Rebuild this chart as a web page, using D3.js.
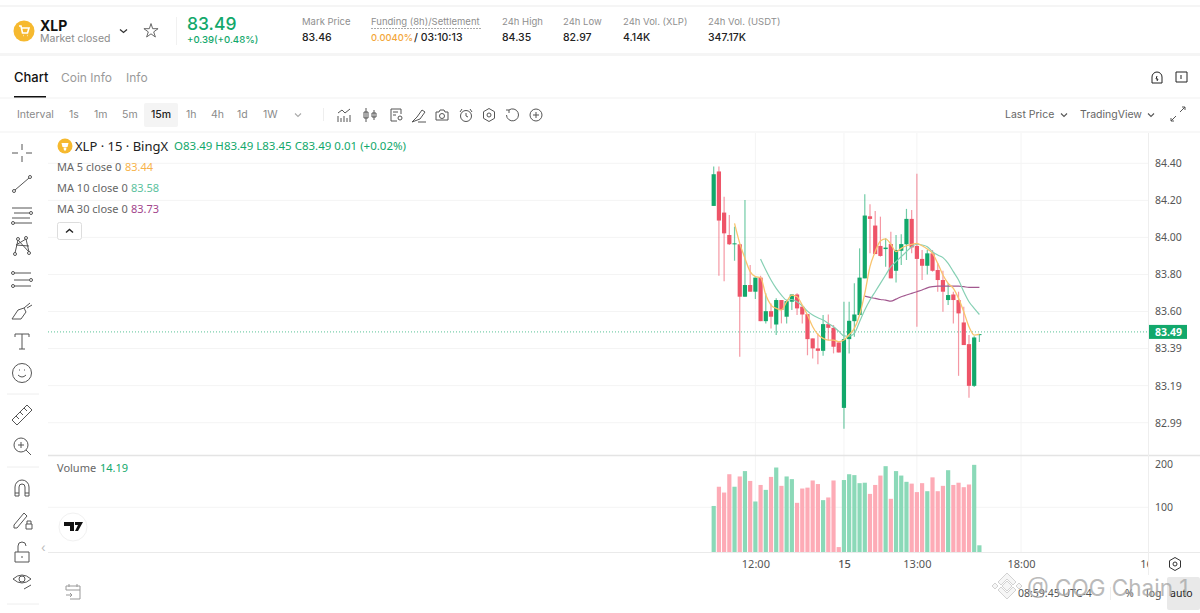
<!DOCTYPE html>
<html>
<head>
<meta charset="utf-8">
<script src="https://cdn.jsdelivr.net/npm/d3@7"></script>
<style>
  html, body { margin: 0; padding: 0; background: #fff; overflow: hidden; }
  svg { display: block; }
  text { font-family: Inter, "Noto Sans", sans-serif; }
  .tv text, text.tv { font-family: "Noto Sans", "Open Sans", sans-serif; }
</style>
</head>
<body>
<div id="chart"></div>
<script>
// values, one entry per 15m candle
const candleOpen = [84.170,84.356,84.134,84.013,83.963,83.963,83.680,83.743,83.707,83.783,83.548,83.602,83.530,83.662,83.572,83.653,83.692,83.626,83.586,83.455,83.401,83.388,83.532,83.512,83.433,83.080,83.451,83.548,83.581,83.779,84.114,84.064,83.954,83.937,83.964,83.820,83.928,83.963,84.100,83.954,83.884,83.847,83.914,83.824,83.770,83.662,83.692,83.662,83.541,83.424,83.199,83.474];
const candleHigh = [84.383,84.383,84.220,84.121,84.058,83.963,84.202,83.851,83.783,83.793,83.698,83.644,83.671,83.662,83.662,83.692,83.698,83.635,83.586,83.455,83.482,83.581,83.584,83.527,83.437,83.653,83.653,83.752,83.941,84.233,84.179,84.143,84.112,83.995,84.031,84.013,84.017,84.154,84.148,84.343,83.932,83.932,83.932,83.860,83.820,83.752,83.707,83.707,83.626,83.473,83.467,83.478];
const candleLow = [84.170,83.793,83.764,83.959,83.874,83.356,83.680,83.707,83.667,83.548,83.536,83.509,83.473,83.536,83.536,83.608,83.581,83.536,83.364,83.346,83.316,83.361,83.445,83.374,83.379,82.968,83.374,83.464,83.581,83.779,83.914,83.910,83.896,83.842,83.779,83.757,83.851,83.878,83.914,83.518,83.770,83.800,83.815,83.707,83.599,83.635,83.536,83.253,83.419,83.134,83.193,83.436];
const candleClose = [84.341,84.091,84.022,83.963,83.968,83.680,83.743,83.707,83.783,83.548,83.602,83.572,83.662,83.608,83.656,83.692,83.617,83.584,83.451,83.401,83.388,83.532,83.512,83.410,83.379,83.451,83.550,83.584,83.783,84.118,84.100,83.910,83.900,83.945,83.779,83.932,83.964,84.100,83.946,83.884,83.847,83.914,83.820,83.770,83.707,83.689,83.662,83.590,83.419,83.199,83.460,83.478];
const volumes = [103,146,133,174,146,169,181,159,113,150,139,168,189,148,169,163,110,142,144,160,152,116,122,160,11,161,174,172,154,155,130,150,171,192,119,181,171,157,153,134,154,136,167,136,148,183,150,155,145,151,195,15];

// moving averages start part way through the candles
const ma5Start = 4;
const ma5 = [84.076,83.968,83.887,83.815,83.788,83.783,83.689,83.635,83.617,83.608,83.653,83.689,83.680,83.635,83.581,83.518,83.476,83.455,83.446,83.446,83.437,83.446,83.476,83.509,83.581,83.698,83.842,83.923,83.981,83.992,83.963,83.923,83.941,83.955,83.963,83.968,83.955,83.937,83.914,83.860,83.797,83.752,83.725,83.671,83.599,83.518,83.473,83.478];
const ma10Start = 9;
const ma10 = [83.883,83.824,83.770,83.725,83.689,83.662,83.665,83.653,83.631,83.602,83.581,83.566,83.554,83.536,83.518,83.494,83.469,83.467,83.482,83.545,83.608,83.662,83.707,83.752,83.797,83.842,83.869,83.896,83.923,83.950,83.963,83.959,83.950,83.923,83.905,83.891,83.860,83.815,83.770,83.707,83.653,83.617,83.584];
const ma30Start = 29;
const ma30 = [83.683,83.676,83.671,83.665,83.662,83.656,83.667,83.680,83.689,83.698,83.707,83.716,83.728,83.734,83.737,83.737,83.737,83.737,83.737,83.734,83.730,83.730,83.730];

const lastPrice = 83.49;
const priceTicks = [84.4,84.2,84.0,83.8,83.6,83.4,83.2,83.0];
const priceTickLabels = ['84.40','84.20','84.00','83.80','83.60','83.39','83.19','82.99'];
const volumeTicks = [200,100];
const timeTickIndex = [8,25,39,59,83];
const timeTickLabels = ['12:00','15','13:00','18:00','16'];

const headerStats = [
    ['Mark Price', '83.46', 302],
    ['24h High', '84.35', 502],
    ['24h Low', '82.97', 563],
    ['24h Vol. (XLP)', '4.14K', 623],
    ['24h Vol. (USDT)', '347.17K', 708]
];
const intervals = [['Interval',17],['1s',69],['1m',94],['5m',122],['15m',151],['1h',186],['4h',211],['1d',237],['1W',263]];
const legendMA = [['MA 5 close 0','83.44','#f7b34c',171,125],['MA 10 close 0','83.58','#5cc29e',192,131],['MA 30 close 0','83.73','#a2458c',213,131]];

const green = '#12a86b', red = '#ee5468';
const volGreen = '#8bd9b8', volRed = '#fdabb6';
const gridColor = '#f4f4f4';
const iconColor = '#555';

const svg = d3.select('#chart').append('svg').attr('width', 1200).attr('height', 613);
svg.append('rect').attr('width', 1200).attr('height', 613).attr('fill', '#fff');

// scales
const x = d3.scaleLinear().domain([0, 51]).range([713.7, 979.4]);
const y = d3.scaleLinear().domain([83, 84.4]).range([422.7, 163.3]);
const yVol = d3.scaleLinear().domain([0, 200]).range([552, 462.6]);

function hLine(x1, x2, yy, color, w) {
    svg.append('line').attr('x1', x1).attr('x2', x2).attr('y1', yy).attr('y2', yy)
        .attr('stroke', color).attr('stroke-width', w || 1);
}
function vLine(xx, y1, y2, color, w) {
    svg.append('line').attr('x1', xx).attr('x2', xx).attr('y1', y1).attr('y2', y2)
        .attr('stroke', color).attr('stroke-width', w || 1);
}
function label(txt, xx, yy, size, color, weight, cls) {
    return svg.append('text').attr('x', xx).attr('y', yy).attr('font-size', size)
        .attr('fill', color).attr('font-weight', weight || 400).attr('class', cls || null).text(txt);
}

// page bands and separators
svg.append('rect').attr('x', 0).attr('y', 5).attr('width', 1200).attr('height', 2).attr('fill', '#f5f5f5');
svg.append('rect').attr('x', 0).attr('y', 53).attr('width', 1200).attr('height', 3).attr('fill', '#f5f5f5');
hLine(0, 1200, 98, '#f1f1f1');
hLine(0, 1200, 132, '#f1f1f1');
vLine(176.5, 17, 45, '#f1f1f1');
vLine(323.5, 108, 121, '#eee');

// header
svg.append('circle').attr('cx', 24).attr('cy', 31).attr('r', 10.5).attr('fill', '#f6b92f');
svg.append('path').attr('d', 'M19 26h2l1.5 7h5l1.5-5h-7M23 35.5h.5M27 35.5h.5').attr('fill', 'none').attr('stroke', '#fff').attr('stroke-width', 1.6);
label('XLP', 40, 31, 14, '#111', 700);
label('Market closed', 40, 42, 10.5, '#8c8c8c');
svg.append('path').attr('d', 'M120 29.5l3.5 3 3.5-3').attr('fill', 'none').attr('stroke', '#333').attr('stroke-width', 1.3);
svg.append('path').attr('d', d3.symbol(d3.symbolStar, 62)()).attr('transform', 'translate(151,31)').attr('fill', 'none').attr('stroke', '#666');
label('83.49', 187, 30, 17.5, green, 500);
label('+0.39(+0.48%)', 187, 43, 9.6, green, 500);

headerStats.forEach(d => {
    label(d[0], d[2], 25, 9.5, '#8f8f8f');
    label(d[1], d[2], 41, 10.5, '#222', 500);
});
label('Funding (8h)/Settlement', 371, 25, 9.5, '#8f8f8f');
svg.append('line').attr('x1', 371).attr('x2', 481).attr('y1', 28.5).attr('y2', 28.5).attr('stroke', '#aaa').attr('stroke-dasharray', '2 1');
label('0.0040%', 371, 41, 9.4, '#f3a73b', 500);
label('/ 03:10:13', 414, 41, 10.5, '#222', 500);

// tabs
label('Chart', 14, 82, 13, '#111', 500);
label('Coin Info', 61, 82, 12, '#9a9a9a');
label('Info', 126, 82, 12, '#9a9a9a');
svg.append('rect').attr('x', 14).attr('y', 96).attr('width', 32).attr('height', 1.5).attr('fill', '#111');

// interval row
svg.append('rect').attr('x', 144).attr('y', 103).attr('width', 34).attr('height', 24).attr('rx', 2).attr('fill', '#f4f4f4');
intervals.forEach(d => {
    label(d[0], d[1], 118, 10.5, d[0] === '15m' ? '#222' : '#8a8a8a', d[0] === '15m' ? 500 : 400);
});
function chevron(cx, cy, color) {
    svg.append('path').attr('d', `M${cx - 3} ${cy - 1.5}l3 3 3-3`).attr('fill', 'none').attr('stroke', color).attr('stroke-width', 1.1);
}
chevron(298, 115, '#aaa');
label('Last Price', 1005, 118, 10.5, '#666');
chevron(1064, 115, '#555');
label('TradingView', 1080, 118, 10.5, '#666');
chevron(1151, 115, '#555');

// toolbar icons, each is a small path around its own centre
function icon(cx, cy, d, color) {
    svg.append('path').attr('transform', `translate(${cx},${cy})`).attr('d', d)
        .attr('fill', 'none').attr('stroke', color || iconColor).attr('stroke-width', 1);
}
const circ = (a, b, r) => `M${a - r} ${b}a${r} ${r} 0 1 0 ${2 * r} 0a${r} ${r} 0 1 0 ${-2 * r} 0`;
const topIcons = [
    [344, 'M-6 7V1M-3 7V3M0 7V1M3 7V3M6 7V0M-6-2L-2-5 1-2 6-6'],
    [370, 'M-4-7V7M-6-3h4v6h-4zM4-5V5M2-2h4v4h-4z'],
    [396, 'M5-1V-6H-5V6H1M-3-3H2M-3 0H0' + circ(4, 3, 2)],
    [419, 'M-7 7L-2 2 3-5 6-3 1 4-7 7M-1 7H7'],
    [442, 'M-6-3H-3L-2-5H2L3-3H6V5H-6Z' + circ(0, 1, 2.5)],
    [466, circ(0, 1, 5.5) + 'M0-2V1L2 2M-6-3L-4-6M6-3L4-6'],
    [489, 'M0-6.5L5.5-3.3V3.3L0 6.5-5.5 3.3V-3.3Z' + circ(0, 0, 2)],
    [512, 'M-3-5A6 6 0 1 1-5.5 0M-3-5V-2M-3-5H-6'],
    [536, circ(0, 0, 6) + 'M-3 0H3M0-3V3']
];
topIcons.forEach(d => icon(d[0], 115, d[1]));
icon(1178, 114, 'M2-2L7-7M4-7H7V-4M-2 2L-7 7M-7 4V7H-4');
icon(1157, 78, 'M-5 5V-1A5 5 0 0 1 5-1V5ZM0-2L-1 1H1L0 3', '#222');
icon(1181, 77, 'M-5-5H6V5H-5ZM0-2V2', '#222');

const sideIcons = [
    [153, 'M0-9V-3M0 3V9M-10 0H-4M4 0H10'],
    [184, 'M-7 6L7-6' + circ(-8, 7, 1.5) + circ(8, -7, 1.5)],
    [216, 'M-10-8H10M-8-3H8M-10 2H8M-8 7H10' + circ(9, -3, 1.5) + circ(-9, 7, 1.5)],
    [246, 'M-7 7L-4-6 7 6 4-7-6-1 7 0' + circ(-7, 8, 1.5) + circ(-4, -7, 1.5) + circ(7, 7, 1.5) + circ(4, -8, 1.5)],
    [279, 'M-8-6H9M-8 1H7M-8 7H9' + circ(-9, -6, 1.5) + circ(9, 1, 1.5) + circ(-9, 7, 1.5)],
    [311, 'M-10 8L-4-1 2-3 4 1-1 8ZM2-3L8-8M5-3L10-6'],
    [341, 'M-7-7H7V-4M-7-7V-4M0-7V8M-3 8H3'],
    [373, circ(0, 0, 9.5) + 'M-4 2Q0 6 4 2M-3-3h1M2-3h1'],
    [415, 'M-10 5L5-10 10-5-5 10ZM-6 1L-3 4M-2-3L1 0M2-7L5-4'],
    [446, circ(-1, -1, 7) + 'M4 4L9 9M-4-1H2M-1-4V2'],
    [488, 'M-7 8V-1A7 7 0 0 1 7-1V8H3V-1A3 3 0 0 0-3-1V8ZM-7 5H-3M3 5H7'],
    [520, 'M-8 5L2-7 5-4-5 8-8 8ZM4 4H10V9H4ZM5 4V1H9V4'],
    [552, 'M-7 0H7V10H-7ZM-4 0V-6A4 4 0 0 1 4-6M0 4V6'],
    [581, 'M-9-2Q0-10 9-2Q0 6-9-2' + circ(0, -2, 3) + 'M2 8L9 4']
];
sideIcons.forEach(d => icon(22, d[0], d[1]));
hLine(7, 39, 394, '#eee');
hLine(7, 39, 467, '#eee');
hLine(7, 39, 604, '#eee');
label('‹', 41, 552, 12, '#bbb');
icon(73, 592, 'M-7-2H7V7H-3M-7-2V-6H7V-2M-4-8V-5M4-8V-5M-7 3H-1M-3 1L-1 3-3 5', '#999');

// grid
const gridG = svg.append('g');
gridG.selectAll('line.h').data(priceTicks).join('line').attr('class', 'h')
    .attr('x1', 48).attr('x2', 1148).attr('y1', d => y(d)).attr('y2', d => y(d))
    .attr('stroke', gridColor);
gridG.selectAll('line.hv').data(volumeTicks.slice(1)).join('line').attr('class', 'hv')
    .attr('x1', 48).attr('x2', 1148).attr('y1', d => yVol(d)).attr('y2', d => yVol(d))
    .attr('stroke', gridColor);
gridG.selectAll('line.v').data(timeTickIndex.slice(0, 4)).join('line').attr('class', 'v')
    .attr('x1', d => x(d)).attr('x2', d => x(d)).attr('y1', 133).attr('y2', 552)
    .attr('stroke', gridColor);

// pane borders
hLine(48, 1200, 455.5, '#e4e4e4', 1.5);
hLine(48, 1200, 552.5, '#eaeaea');

// volume bars
svg.append('g').selectAll('rect').data(volumes).join('rect')
    .attr('x', (d, i) => x(i) - 2.1)
    .attr('width', 4.2)
    .attr('y', d => yVol(d))
    .attr('height', d => yVol(0) - yVol(d))
    .attr('fill', (d, i) => candleClose[i] >= candleOpen[i] ? volGreen : volRed);

// last price dotted line
svg.append('line').attr('x1', 48).attr('x2', 1148).attr('y1', y(lastPrice)).attr('y2', y(lastPrice))
    .attr('stroke', green).attr('stroke-opacity', 0.7).attr('stroke-dasharray', '1 2');

// candles
const candles = svg.append('g').selectAll('g').data(candleOpen).join('g');
candles.append('line')
    .attr('x1', (d, i) => x(i)).attr('x2', (d, i) => x(i))
    .attr('y1', (d, i) => y(candleHigh[i])).attr('y2', (d, i) => y(candleLow[i]))
    .attr('stroke', (d, i) => candleClose[i] >= candleOpen[i] ? green : red)
    .attr('stroke-opacity', 0.6)
    .attr('stroke-width', 1.2);
candles.append('rect')
    .attr('x', (d, i) => x(i) - 2.1).attr('width', 4.2)
    .attr('y', (d, i) => y(Math.max(candleOpen[i], candleClose[i])))
    .attr('height', (d, i) => Math.max(1, Math.abs(y(candleOpen[i]) - y(candleClose[i]))))
    .attr('fill', (d, i) => candleClose[i] >= candleOpen[i] ? green : red);

// moving averages
function maLine(values, start, color, w) {
    const line = d3.line().x((d, i) => x(i + start)).y(d => y(d)).curve(d3.curveMonotoneX);
    svg.append('path').attr('d', line(values)).attr('fill', 'none')
        .attr('stroke', color).attr('stroke-width', w);
}
maLine(ma30, ma30Start, '#a2588f', 1.2);
maLine(ma10, ma10Start, '#86d0b4', 1.2);
maLine(ma5, ma5Start, '#f9c46e', 1.3);

// price axis
const priceAxis = d3.axisRight(y).tickValues(priceTicks).tickSize(0).tickPadding(6)
    .tickFormat((d, i) => priceTickLabels[i]);
const priceG = svg.append('g').attr('class', 'tv').attr('transform', 'translate(1149,0)').call(priceAxis);
priceG.select('.domain').remove();
priceG.selectAll('text').attr('font-size', 10.5).attr('fill', '#555');

const volAxis = d3.axisRight(yVol).tickValues(volumeTicks).tickSize(0).tickPadding(6).tickFormat(d3.format('d'));
const volG = svg.append('g').attr('class', 'tv').attr('transform', 'translate(1149,0)').call(volAxis);
volG.select('.domain').remove();
volG.selectAll('text').attr('font-size', 10.5).attr('fill', '#555')
    .attr('dy', d => d === 200 ? '0.45em' : '0.32em');

svg.append('rect').attr('x', 1149).attr('y', y(lastPrice) - 7).attr('width', 38).attr('height', 14).attr('fill', green);
label('83.49', 1155, y(lastPrice) + 4, 10.5, '#fff', 700, 'tv');

// time axis, the last label is cut by the price column like the original
const timeAxis = d3.axisBottom(x).tickValues(timeTickIndex).tickSize(0).tickPadding(7)
    .tickFormat((d, i) => timeTickLabels[i]);
const timeG = svg.append('g').attr('class', 'tv').attr('transform', 'translate(0,553)').call(timeAxis);
timeG.select('.domain').remove();
timeG.selectAll('text').attr('font-size', 11).attr('fill', '#555')
    .attr('font-weight', (d, i) => timeTickLabels[i] === '15' ? 500 : 400);
svg.append('rect').attr('x', 1149).attr('y', 553).attr('width', 20).attr('height', 22).attr('fill', '#fff');
vLine(1148.5, 133, 575, '#eee');
icon(1175, 564, 'M0-6.5L5.5-3.3V3.3L0 6.5-5.5 3.3V-3.3Z' + circ(0, 0, 2), '#333');

// chart legend
svg.append('circle').attr('cx', 65).attr('cy', 146).attr('r', 7.5).attr('fill', '#f6b92f');
svg.append('path').attr('d', 'M61.5 143h7l-1 4h-5zM63.5 147.5l.5 3h2l.5-3').attr('fill', '#fff');
label('XLP · 15 · BingX', 75, 151, 13, '#222', 400, 'tv');
label('O83.49 H83.49 L83.45 C83.49 0.01 (+0.02%)', 174, 150, 11.5, green, 400, 'tv');
legendMA.forEach(d => {
    label(d[0], 57, d[3], 11, '#666', 400, 'tv');
    label(d[1], d[4], d[3], 11, d[2], 400, 'tv');
});
svg.append('rect').attr('x', 57.5).attr('y', 222.5).attr('width', 24).attr('height', 17).attr('rx', 2)
    .attr('fill', '#fff').attr('stroke', '#ddd');
svg.append('path').attr('d', 'M66 232.5l3.5-3 3.5 3').attr('fill', 'none').attr('stroke', '#222').attr('stroke-width', 1.4);
label('Volume', 57, 472, 11, '#666', 400, 'tv');
label('14.19', 100, 472, 11, green, 400, 'tv');

// tradingview badge
svg.append('circle').attr('cx', 73).attr('cy', 527).attr('r', 14).attr('fill', '#fff').attr('stroke', '#f1f1f1');
svg.append('path').attr('d', 'M64 522h10v9h-4v-5h-6zM75 522h8l-5 9h-3l3-6h-3z').attr('fill', '#111');

// bottom bar
vLine(1110.5, 587, 600, '#eee');
label('08:59:45 UTC-4', 1018, 597, 10.5, '#555', 400, 'tv');
label('%', 1125, 597, 10.5, '#555', 400, 'tv');
label('log', 1146, 597, 10.5, '#555', 400, 'tv');
svg.append('rect').attr('x', 1167).attr('y', 577).attr('width', 33).attr('height', 33).attr('rx', 2).attr('fill', '#e9e9e9');
label('auto', 1170, 597, 10.5, '#222', 400, 'tv');

// watermark
const wm = svg.append('g').attr('opacity', 0.75);
wm.append('path').attr('d', 'M1007 581l5 5-5 5-5-5zM1007 573l9 9-3 3-6-6-6 6-3-3zM1007 599l9-9-3-3-6 6-6-6-3 3zM998 586l-3 3-3-3 3-3zM1016 586l3 3 3-3-3-3z')
    .attr('fill', '#f4f4f4').attr('stroke', '#c4c4c4');
wm.append('text').attr('x', 1027).attr('y', 596).attr('font-size', 22.5).attr('fill', '#a4a4a4').text('@ COG Chain 1');
</script>
</body>
</html>
